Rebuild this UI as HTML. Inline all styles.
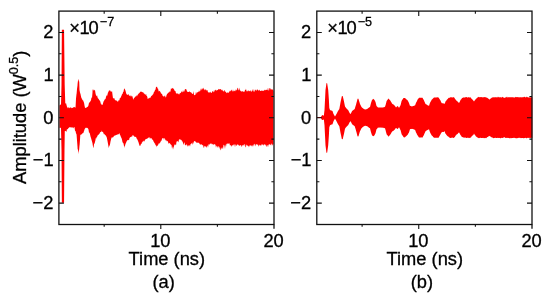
<!DOCTYPE html>
<html><head><meta charset="utf-8"><title>Amplitude vs Time</title>
<style>
html,body{margin:0;padding:0;background:#fff;}
body{width:550px;height:299px;overflow:hidden;}
svg{display:block;}
text{font-family:"Liberation Sans",sans-serif;font-size:18.3px;fill:#000;stroke:#000;stroke-width:0.3px;}
</style></head><body>
<svg width="550" height="299" viewBox="0 0 550 299">
<rect width="550" height="299" fill="#fff"/>
<polygon points="59.50,105.22 60.00,105.25 60.50,104.61 61.00,104.45 61.50,85.00 61.85,29.80 62.00,29.80 62.50,29.80 63.00,29.80 63.50,29.80 64.00,29.80 64.05,29.80 64.50,68.02 64.70,85.00 64.80,88.17 65.00,94.50 65.30,104.00 65.50,103.60 66.00,103.05 66.50,104.98 67.00,106.72 67.50,107.57 68.00,108.41 68.50,106.64 69.00,108.35 69.50,108.00 70.00,107.13 70.50,107.85 71.00,107.15 71.50,108.34 72.00,107.90 72.50,108.04 73.00,107.58 73.50,107.29 74.00,107.14 74.50,107.15 75.00,106.74 75.50,108.13 76.00,98.44 76.50,93.96 76.60,93.83 77.00,89.02 77.50,85.48 77.60,83.64 78.00,80.59 78.50,78.67 78.60,79.98 79.00,81.71 79.20,81.27 79.50,89.95 79.60,90.61 80.00,92.59 80.30,93.45 80.50,94.01 81.00,96.41 81.50,98.13 82.00,98.71 82.50,100.32 83.00,100.19 83.50,101.32 83.60,101.94 84.00,102.43 84.50,105.39 85.00,107.81 85.50,107.92 86.00,107.68 86.50,107.64 87.00,106.64 87.50,107.07 88.00,106.44 88.50,105.15 89.00,102.80 89.50,102.44 90.00,102.09 90.50,101.06 91.00,100.20 91.50,97.26 92.00,97.95 92.50,92.41 92.60,88.99 93.00,90.23 93.40,90.77 93.50,89.98 94.00,89.37 94.30,90.69 94.50,90.08 95.00,90.24 95.10,90.64 95.50,93.17 95.60,93.72 96.00,95.21 96.10,96.37 96.50,95.99 97.00,95.06 97.50,97.31 98.00,98.61 98.50,99.13 98.60,98.08 99.00,99.70 99.50,100.33 100.00,101.11 100.50,101.92 100.60,103.45 101.00,103.62 101.50,104.58 101.70,104.92 102.00,104.68 102.50,105.11 103.00,103.59 103.50,101.60 104.00,100.93 104.50,99.64 105.00,99.28 105.50,98.97 106.00,96.92 106.50,95.26 106.70,95.31 107.00,96.16 107.50,94.44 108.00,92.38 108.50,92.04 108.70,90.62 109.00,91.15 109.50,90.14 110.00,90.15 110.50,90.89 111.00,91.91 111.50,91.63 112.00,90.64 112.50,94.87 113.00,98.27 113.50,98.38 114.00,97.84 114.50,98.84 115.00,100.18 115.50,100.47 116.00,99.64 116.50,100.72 117.00,101.24 117.50,101.17 118.00,101.99 118.50,100.03 119.00,100.67 119.50,99.70 120.00,97.44 120.50,98.19 121.00,96.75 121.50,95.85 122.00,94.25 122.50,93.88 123.00,92.31 123.50,91.68 124.00,89.08 124.50,89.28 124.60,88.64 124.70,87.55 125.00,89.60 125.50,90.71 126.00,92.69 126.50,94.17 127.00,94.54 127.50,94.85 128.00,95.08 128.50,93.65 129.00,95.68 129.50,95.89 130.00,95.05 130.50,96.63 131.00,95.06 131.50,96.64 132.00,95.86 132.50,96.79 133.00,98.79 133.50,99.69 134.00,97.62 134.50,97.93 135.00,96.94 135.50,96.31 136.00,96.67 136.50,95.01 137.00,96.40 137.50,95.05 138.00,94.54 138.50,93.63 139.00,93.16 139.50,92.91 140.00,91.89 140.50,91.85 141.00,91.45 141.50,91.83 141.60,91.67 142.00,92.06 142.50,92.55 143.00,91.74 143.50,93.11 144.00,93.47 144.50,93.73 145.00,94.54 145.50,94.42 146.00,94.87 146.30,94.11 146.50,95.98 147.00,95.90 147.50,97.85 147.60,98.92 148.00,98.68 148.50,98.29 149.00,98.51 149.50,97.46 150.00,98.37 150.50,97.56 151.00,96.41 151.50,95.67 152.00,95.82 152.50,94.86 152.60,94.68 153.00,94.46 153.50,93.43 154.00,91.70 154.50,91.65 154.60,91.06 154.70,90.64 155.00,90.14 155.50,89.44 156.00,87.00 156.50,86.67 156.60,87.28 156.70,86.94 157.00,86.50 157.50,88.60 158.00,88.47 158.50,90.50 158.70,91.42 159.00,91.14 159.50,90.79 160.00,91.40 160.50,92.06 161.00,93.38 161.50,93.76 162.00,93.84 162.50,95.52 162.70,95.94 163.00,95.82 163.50,96.54 164.00,96.63 164.50,96.07 165.00,95.13 165.50,97.37 166.00,97.38 166.50,95.31 167.00,94.21 167.50,93.79 168.00,92.64 168.50,92.41 169.00,92.69 169.50,91.31 170.00,92.01 170.50,91.30 171.00,87.88 171.50,89.08 172.00,88.39 172.50,88.28 173.00,87.84 173.50,89.10 174.00,89.26 174.50,90.48 175.00,91.32 175.50,91.12 176.00,93.38 176.50,93.76 177.00,92.65 177.50,93.53 178.00,94.21 178.50,94.25 179.00,93.21 179.50,94.85 180.00,92.60 180.50,93.23 181.00,92.70 181.50,91.22 182.00,91.73 182.50,92.50 183.00,90.06 183.50,91.41 184.00,92.01 184.50,90.84 185.00,88.96 185.50,89.36 186.00,88.96 186.50,89.65 187.00,91.55 187.50,91.64 188.00,91.98 188.50,92.09 189.00,91.67 189.50,91.19 190.00,92.02 190.50,91.97 191.00,92.79 191.50,92.46 192.00,93.81 192.50,93.77 193.00,93.94 193.50,91.11 194.00,94.97 194.50,95.20 195.00,94.73 195.50,94.68 196.00,91.54 196.50,94.09 197.00,92.17 197.50,92.44 198.00,91.96 198.50,91.99 199.00,90.28 199.50,91.40 200.00,91.61 200.50,90.09 201.00,88.25 201.50,90.54 202.00,88.08 202.50,88.72 203.00,89.74 203.50,87.38 204.00,89.06 204.50,89.63 205.00,90.41 205.50,89.14 206.00,89.48 206.50,90.45 207.00,90.40 207.50,89.93 208.00,92.39 208.50,92.22 209.00,92.46 209.50,91.96 210.00,93.32 210.50,91.60 211.00,92.60 211.50,93.09 212.00,92.56 212.50,90.80 213.00,91.47 213.50,92.40 214.00,89.95 214.50,91.90 215.00,89.47 215.50,90.48 216.00,89.54 216.50,91.02 217.00,90.05 217.50,90.28 218.00,89.78 218.50,89.29 219.00,88.84 219.50,89.48 220.00,89.30 220.50,89.05 221.00,89.45 221.50,90.50 222.00,89.21 222.50,90.50 223.00,90.81 223.50,91.66 224.00,90.77 224.50,89.86 225.00,92.04 225.50,91.58 226.00,91.63 226.50,93.24 227.00,92.70 227.50,92.31 228.00,93.03 228.50,92.64 229.00,91.96 229.50,91.51 230.00,90.58 230.50,91.44 231.00,90.31 231.50,89.51 232.00,91.33 232.50,91.47 233.00,89.35 233.50,91.61 234.00,91.05 234.50,90.49 235.00,91.41 235.50,90.57 236.00,88.92 236.50,90.53 237.00,89.97 237.50,87.65 238.00,88.09 238.50,90.06 239.00,90.62 239.50,87.56 240.00,90.75 240.50,90.43 241.00,91.59 241.50,91.59 242.00,91.18 242.50,91.21 243.00,91.60 243.50,92.03 244.00,91.26 244.50,92.02 245.00,90.07 245.50,89.95 246.00,88.49 246.50,91.76 247.00,90.29 247.50,91.30 248.00,91.51 248.50,89.95 249.00,91.53 249.50,91.12 250.00,90.78 250.50,90.24 251.00,91.64 251.50,91.82 252.00,90.15 252.50,90.89 253.00,88.42 253.50,91.23 254.00,91.67 254.50,91.57 255.00,89.30 255.50,90.07 256.00,90.48 256.50,90.80 257.00,89.34 257.50,89.82 258.00,89.85 258.50,90.86 259.00,90.41 259.50,89.40 260.00,90.92 260.50,90.63 261.00,91.28 261.50,90.80 262.00,90.11 262.50,90.98 263.00,90.95 263.50,90.74 264.00,90.56 264.50,89.62 265.00,90.66 265.50,89.81 266.00,89.91 266.50,89.62 267.00,90.21 267.50,89.97 268.00,87.57 268.50,90.30 269.00,90.82 269.50,87.67 270.00,88.45 270.50,88.40 271.00,90.22 271.50,89.25 272.00,89.12 272.50,89.51 273.00,90.15 273.50,90.71 273.50,144.13 273.00,144.52 272.50,144.41 272.00,145.94 271.50,143.60 271.00,143.71 270.50,145.32 270.00,144.94 269.50,143.76 269.00,144.66 268.50,144.40 268.00,147.52 267.50,144.88 267.00,145.46 266.50,147.18 266.00,144.31 265.50,145.66 265.00,144.15 264.50,144.87 264.00,144.01 263.50,145.64 263.00,144.79 262.50,144.77 262.00,144.03 261.50,144.83 261.00,146.10 260.50,144.89 260.00,145.57 259.50,145.29 259.00,144.28 258.50,146.63 258.00,145.18 257.50,144.51 257.00,144.18 256.50,144.46 256.00,144.06 255.50,146.54 255.00,144.08 254.50,143.78 254.00,145.91 253.50,143.99 253.00,146.94 252.50,144.78 252.00,146.84 251.50,145.48 251.00,145.45 250.50,145.14 250.00,145.71 249.50,145.20 249.00,147.40 248.50,145.91 248.00,145.82 247.50,145.75 247.00,145.06 246.50,144.57 246.00,146.87 245.50,147.55 245.00,144.04 244.50,144.29 244.00,146.25 243.50,144.54 243.00,145.35 242.50,144.99 242.00,146.60 241.50,146.71 241.00,144.86 240.50,145.30 240.00,145.40 239.50,145.53 239.00,146.11 238.50,144.38 238.00,145.22 237.50,144.07 237.00,145.01 236.50,146.18 236.00,144.19 235.50,144.79 235.00,147.16 234.50,144.58 234.00,144.25 233.50,144.70 233.00,145.87 232.50,144.74 232.00,146.00 231.50,146.85 231.00,144.66 230.50,145.35 230.00,145.86 229.50,143.62 229.00,143.35 228.50,144.28 228.00,142.74 227.50,143.81 227.00,144.32 226.50,143.62 226.00,146.73 225.50,144.20 225.00,149.11 224.50,145.93 224.00,144.80 223.50,145.12 223.00,149.26 222.50,146.95 222.00,149.45 221.50,148.30 221.00,147.26 220.50,150.61 220.00,149.28 219.50,147.49 219.00,146.48 218.50,146.02 218.00,148.13 217.50,146.41 217.00,146.59 216.50,145.38 216.00,147.76 215.50,145.05 215.00,144.26 214.50,144.29 214.00,144.32 213.50,144.63 213.00,144.39 212.50,143.80 212.00,144.85 211.50,143.37 211.00,143.94 210.50,143.54 210.00,143.61 209.50,145.03 209.00,144.07 208.50,144.77 208.00,147.65 207.50,145.39 207.00,145.75 206.50,147.82 206.00,147.11 205.50,146.31 205.00,146.30 204.50,145.69 204.00,147.91 203.50,147.19 203.00,144.75 202.50,145.54 202.00,144.72 201.50,144.22 201.00,144.58 200.50,144.46 200.00,144.38 199.50,143.79 199.00,142.78 198.50,142.65 198.00,142.70 197.50,142.87 197.00,142.53 196.50,142.81 196.00,142.26 195.50,141.75 195.00,140.80 194.50,141.19 194.00,141.16 193.50,144.09 193.00,141.59 192.50,145.11 192.00,143.02 191.50,143.28 191.00,144.31 190.50,143.91 190.00,146.63 189.50,144.98 189.00,145.59 188.50,145.37 188.00,146.77 187.50,145.90 187.00,144.38 186.50,144.27 186.00,145.72 185.50,144.76 185.00,145.30 184.50,142.30 184.00,143.10 183.50,145.06 183.00,142.97 182.50,141.21 182.00,141.48 181.50,139.75 181.00,140.33 180.50,139.47 180.00,139.31 179.50,139.39 179.00,139.26 178.50,142.42 178.00,141.32 177.50,141.13 177.00,141.28 176.50,141.76 176.00,145.48 175.50,144.29 175.00,144.88 174.50,144.22 174.00,146.18 173.50,147.44 173.00,149.81 172.50,146.11 172.00,148.87 171.50,144.92 171.00,144.73 170.50,144.37 170.00,143.40 169.50,142.91 169.00,143.37 168.50,143.81 168.00,141.69 167.50,140.84 167.00,141.54 166.50,140.67 166.00,139.72 165.50,140.84 165.00,138.54 164.50,138.08 164.00,140.00 163.50,138.15 163.00,137.87 162.70,138.23 162.50,138.17 162.00,138.76 161.50,141.02 161.00,140.45 160.50,142.27 160.00,142.60 159.50,143.55 159.00,143.48 158.70,143.28 158.50,144.46 158.00,144.51 157.50,146.14 157.00,145.60 156.70,146.99 156.60,147.61 156.50,146.58 156.00,145.35 155.50,145.27 155.00,143.14 154.70,143.06 154.60,144.21 154.50,143.57 154.00,142.08 153.50,141.39 153.00,140.08 152.60,139.92 152.50,139.31 152.00,139.57 151.50,138.30 151.00,137.72 150.50,138.09 150.00,139.22 149.50,136.66 149.00,138.34 148.50,137.37 148.00,138.01 147.60,138.11 147.50,138.52 147.00,138.92 146.50,138.84 146.30,139.04 146.00,138.71 145.50,139.27 145.00,140.28 144.50,140.72 144.00,141.92 143.50,140.84 143.00,140.85 142.50,142.29 142.00,142.22 141.60,143.50 141.50,143.91 141.00,144.06 140.50,145.17 140.00,146.15 139.50,145.49 139.00,144.06 138.50,142.14 138.00,140.89 137.50,139.66 137.00,139.02 136.50,138.22 136.00,136.78 135.50,136.95 135.00,136.77 134.50,136.76 134.00,136.15 133.50,135.76 133.00,134.72 132.50,135.52 132.00,136.93 131.50,136.31 131.00,136.98 130.50,137.04 130.00,137.47 129.50,138.03 129.00,140.45 128.50,139.66 128.00,139.91 127.50,139.99 127.00,140.97 126.50,141.58 126.00,142.89 125.50,143.66 125.00,145.82 124.70,145.97 124.60,146.77 124.50,148.04 124.00,146.01 123.50,143.41 123.00,142.73 122.50,142.18 122.00,139.64 121.50,138.09 121.00,137.22 120.50,135.63 120.00,134.67 119.50,132.80 119.00,134.80 118.50,133.85 118.00,134.38 117.50,134.24 117.00,134.91 116.50,134.81 116.00,134.96 115.50,135.53 115.00,135.27 114.50,135.69 114.00,135.95 113.50,136.80 113.00,137.40 112.50,137.59 112.00,137.16 111.50,137.76 111.00,139.58 110.50,141.56 110.00,144.51 109.50,145.76 109.00,146.80 108.70,148.20 108.50,146.49 108.00,143.74 107.50,140.99 107.00,138.48 106.70,137.29 106.50,136.64 106.00,135.88 105.50,135.11 105.00,135.26 104.50,133.86 104.00,134.39 103.50,133.32 103.00,132.11 102.50,131.64 102.00,131.71 101.70,130.21 101.50,131.60 101.00,131.98 100.60,132.11 100.50,132.06 100.00,132.56 99.50,133.87 99.00,134.08 98.60,135.11 98.50,134.46 98.00,135.18 97.50,135.62 97.00,137.25 96.50,137.31 96.10,139.10 96.00,138.01 95.60,138.72 95.50,139.93 95.10,141.43 95.00,141.70 94.50,144.35 94.30,143.11 94.00,144.40 93.50,147.98 93.40,148.01 93.00,146.40 92.60,143.99 92.50,143.23 92.00,141.39 91.50,139.74 91.00,138.02 90.50,136.39 90.00,134.26 89.50,132.52 89.00,132.86 88.50,129.40 88.00,128.38 87.50,127.89 87.00,127.84 86.50,128.06 86.00,127.55 85.50,128.05 85.00,128.57 84.50,129.43 84.00,131.32 83.60,132.12 83.50,132.82 83.00,133.22 82.50,133.19 82.00,133.67 81.50,134.24 81.00,134.99 80.50,134.46 80.30,134.92 80.00,139.87 79.60,145.13 79.50,145.49 79.20,149.20 79.00,150.27 78.60,154.18 78.50,152.62 78.00,150.03 77.60,148.70 77.50,146.74 77.00,140.31 76.60,134.94 76.50,134.32 76.00,133.18 75.50,131.09 75.00,130.82 74.50,127.37 74.00,127.03 73.50,128.61 73.00,127.23 72.50,127.85 72.00,127.23 71.50,127.82 71.00,126.94 70.50,127.43 70.00,127.30 69.50,126.94 69.00,127.95 68.50,127.84 68.00,129.06 67.50,129.56 67.00,128.77 66.50,131.65 66.00,131.41 65.50,130.77 65.30,131.00 65.00,131.00 64.80,131.00 64.70,137.33 64.50,150.00 64.05,202.80 64.00,202.80 63.50,202.80 63.00,202.80 62.50,202.80 62.00,202.80 61.85,202.80 61.50,150.00 61.00,127.93 60.50,127.74 60.00,127.83 59.50,128.01" fill="#ff0000"/>
<polygon points="317.00,117.10 317.50,117.10 318.00,117.10 318.50,117.10 319.00,117.10 319.50,117.10 320.00,117.10 320.50,117.10 321.00,117.10 321.50,116.00 322.00,115.55 322.50,115.10 323.00,115.30 323.50,115.50 323.80,116.10 324.00,114.36 324.50,110.00 325.00,100.00 325.50,90.00 326.00,86.39 326.40,83.50 326.50,83.37 326.80,83.00 327.00,83.25 327.20,83.50 327.50,85.45 328.00,88.70 328.20,90.00 328.50,94.29 328.90,100.00 329.00,102.00 329.30,108.00 329.50,108.57 330.00,110.00 330.50,110.20 331.00,110.40 331.50,110.60 332.00,110.80 332.50,111.00 333.00,112.50 333.50,114.00 334.00,114.87 334.50,115.73 335.00,116.60 335.50,115.73 336.00,114.87 336.50,114.00 337.00,113.00 337.50,112.00 338.00,111.00 338.50,110.23 339.00,109.46 339.30,109.00 339.50,107.92 340.00,105.23 340.50,102.54 340.60,102.00 341.00,100.10 341.50,97.73 341.80,96.30 342.00,96.14 342.30,95.90 342.50,96.06 342.80,96.30 343.00,97.18 343.50,99.37 344.00,101.56 344.10,102.00 344.50,104.00 345.00,106.50 345.50,107.18 346.00,107.86 346.10,108.00 346.50,108.40 347.00,108.90 347.50,109.40 348.00,109.90 348.10,110.00 348.50,110.80 349.00,111.80 349.50,112.80 349.60,113.00 350.00,113.40 350.50,113.90 350.60,114.00 351.00,113.20 351.50,112.20 352.00,111.20 352.10,111.00 352.50,110.69 353.00,110.31 353.50,109.92 354.00,109.54 354.50,109.15 354.70,109.00 355.00,108.00 355.50,106.33 356.00,104.67 356.20,104.00 356.50,102.85 357.00,100.92 357.50,99.00 358.00,98.60 358.50,99.00 359.00,100.67 359.50,102.33 360.00,104.00 360.50,105.00 361.00,106.00 361.50,107.00 362.00,107.44 362.50,107.88 363.00,108.32 363.20,108.50 363.50,108.65 364.00,108.90 364.50,109.15 365.00,109.40 365.20,109.50 365.50,109.42 366.00,109.30 366.50,109.17 367.00,109.05 367.20,109.00 367.50,108.75 368.00,108.33 368.50,107.92 369.00,107.50 369.50,107.25 370.00,107.00 370.50,105.00 371.00,103.00 371.50,101.50 372.00,99.92 372.50,99.62 373.00,99.17 373.50,98.81 374.00,99.50 374.50,100.04 375.00,100.93 375.50,101.91 376.00,103.99 376.50,106.02 377.00,106.59 377.50,107.07 378.00,107.57 378.50,107.62 379.00,107.59 379.50,107.52 380.00,107.56 380.50,107.54 381.00,107.47 381.50,107.55 382.00,107.58 382.50,107.53 383.00,107.43 383.50,107.28 384.00,107.23 384.50,107.02 385.00,106.85 385.50,105.34 385.60,104.93 386.00,103.44 386.50,101.44 386.60,101.02 387.00,100.43 387.50,99.75 388.00,99.24 388.50,98.61 388.60,98.46 389.00,99.02 389.50,99.66 390.00,100.28 390.50,100.82 390.60,100.88 391.00,101.76 391.50,102.47 392.00,103.56 392.50,103.88 393.00,104.20 393.50,104.61 394.00,105.04 394.50,105.46 394.60,105.47 395.00,106.07 395.50,106.81 396.00,107.49 396.50,107.05 397.00,106.62 397.50,106.08 397.60,106.02 398.00,106.44 398.50,107.10 399.00,107.97 399.50,106.91 400.00,106.17 400.50,105.19 400.60,105.00 401.00,103.44 401.50,101.29 401.60,101.01 402.00,100.37 402.50,99.61 403.00,98.80 403.50,98.10 403.60,97.88 404.00,97.98 404.50,98.02 405.00,98.03 405.50,98.41 406.00,98.90 406.50,99.38 407.00,99.81 407.50,100.34 407.70,100.50 408.00,101.02 408.50,102.01 409.00,102.93 409.50,104.49 410.00,106.04 410.50,105.86 411.00,106.16 411.50,106.32 412.00,106.42 412.50,106.27 413.00,106.04 413.50,105.89 414.00,105.82 414.50,105.48 415.00,105.51 415.50,104.15 416.00,102.81 416.50,101.97 417.00,100.91 417.50,99.74 418.00,99.03 418.50,98.47 419.00,97.83 419.50,97.72 420.00,97.82 420.50,97.80 421.00,97.72 421.50,97.80 422.00,97.71 422.50,97.81 423.00,98.66 423.50,99.57 424.00,100.46 424.50,101.67 425.00,102.84 425.50,104.00 426.00,104.28 426.50,104.56 427.00,104.73 427.50,105.19 428.00,105.44 428.50,105.62 429.00,106.00 429.50,104.35 430.00,102.85 430.50,101.95 431.00,101.04 431.50,100.23 431.60,99.77 432.00,99.59 432.50,99.07 433.00,98.58 433.50,98.04 434.00,97.38 434.50,97.44 435.00,97.40 435.50,97.44 436.00,97.51 436.50,97.50 437.00,97.37 437.50,97.33 438.00,97.47 438.50,97.55 438.60,97.52 439.00,98.21 439.50,99.03 440.00,99.83 440.50,100.51 441.00,101.65 441.50,102.67 441.60,102.93 442.00,103.17 442.50,103.17 443.00,103.21 443.50,103.50 444.00,103.54 444.50,103.77 444.60,104.09 445.00,103.07 445.50,101.58 445.60,101.42 446.00,100.64 446.50,100.45 447.00,99.56 447.50,99.16 447.60,99.01 448.00,98.66 448.50,97.77 449.00,97.97 449.50,97.83 450.00,97.53 450.50,97.30 451.00,97.18 451.50,97.37 452.00,97.41 452.50,97.46 453.00,97.29 453.50,97.36 454.00,97.30 454.50,97.96 455.00,98.77 455.50,99.44 456.00,99.98 456.50,100.64 457.00,101.12 457.50,101.55 458.00,101.99 458.50,102.42 459.00,102.94 459.50,102.17 460.00,101.25 460.50,100.06 460.70,99.78 461.00,99.59 461.50,98.90 462.00,98.07 462.50,97.88 463.00,97.41 463.50,97.49 464.00,97.53 464.50,97.51 465.00,97.60 465.50,97.17 466.00,97.05 466.50,97.09 467.00,97.56 467.50,97.55 468.00,97.56 468.50,97.08 469.00,97.43 469.50,97.54 470.00,97.22 470.50,97.27 471.00,98.33 471.50,98.74 472.00,98.72 472.50,99.72 473.00,100.22 473.50,100.72 474.00,101.55 474.50,100.76 475.00,99.98 475.50,99.45 476.00,98.87 476.50,98.54 477.00,97.95 477.50,97.46 478.00,97.32 478.50,96.79 479.00,97.37 479.50,97.33 480.00,96.96 480.50,97.31 481.00,96.95 481.50,97.18 482.00,96.99 482.50,97.41 483.00,97.25 483.50,97.13 484.00,97.22 484.50,96.92 485.00,97.23 485.50,97.24 486.00,97.13 486.50,97.48 487.00,97.98 487.50,97.84 488.00,98.50 488.50,98.76 489.00,98.92 489.50,99.39 489.60,99.64 490.00,99.22 490.50,98.42 491.00,98.42 491.50,97.64 492.00,97.68 492.50,97.30 493.00,97.38 493.50,97.25 494.00,97.20 494.50,97.15 495.00,97.40 495.50,97.16 496.00,97.12 496.50,97.41 497.00,97.22 497.50,97.39 498.00,96.56 498.50,97.22 499.00,97.24 499.50,97.39 500.00,96.97 500.50,97.13 501.00,97.45 501.50,97.39 502.00,97.37 502.50,96.88 503.00,96.75 503.50,97.66 504.00,97.80 504.50,97.80 505.00,98.03 505.50,97.27 506.00,97.31 506.50,97.28 507.00,96.54 507.50,97.44 508.00,97.44 508.50,96.92 509.00,97.40 509.50,97.34 510.00,96.92 510.50,97.29 511.00,97.43 511.50,97.34 512.00,97.03 512.50,97.24 513.00,97.44 513.50,97.27 514.00,97.44 514.50,97.43 515.00,97.41 515.50,96.78 516.00,97.32 516.50,97.03 517.00,97.24 517.50,96.88 518.00,97.22 518.50,97.19 519.00,97.30 519.50,97.33 520.00,97.43 520.50,97.36 521.00,97.08 521.50,97.42 522.00,97.32 522.50,97.31 523.00,97.28 523.50,97.18 524.00,96.82 524.50,96.85 525.00,97.35 525.50,97.21 526.00,97.44 526.50,96.84 527.00,96.77 527.50,97.25 528.00,97.37 528.50,97.41 529.00,97.40 529.50,97.35 530.00,97.44 530.50,97.27 531.00,97.32 531.50,97.27 532.00,97.30 532.30,97.23 532.30,138.22 532.00,137.82 531.50,137.86 531.00,138.04 530.50,138.07 530.00,137.76 529.50,138.01 529.00,137.76 528.50,138.00 528.00,137.81 527.50,137.89 527.00,137.76 526.50,138.44 526.00,137.95 525.50,137.78 525.00,137.93 524.50,137.97 524.00,138.30 523.50,138.34 523.00,138.05 522.50,137.98 522.00,137.95 521.50,138.06 521.00,138.23 520.50,138.12 520.00,137.85 519.50,137.87 519.00,138.06 518.50,137.83 518.00,138.10 517.50,138.14 517.00,138.00 516.50,138.22 516.00,138.44 515.50,137.90 515.00,137.94 514.50,137.79 514.00,137.92 513.50,137.77 513.00,137.90 512.50,137.91 512.00,138.02 511.50,137.98 511.00,138.46 510.50,137.81 510.00,138.44 509.50,138.21 509.00,137.83 508.50,138.12 508.00,138.03 507.50,137.83 507.00,137.95 506.50,137.81 506.00,138.01 505.50,138.03 505.00,137.54 504.50,137.37 504.00,137.32 503.50,137.51 503.00,137.94 502.50,137.96 502.00,137.80 501.50,137.93 501.00,137.83 500.50,138.45 500.00,137.92 499.50,138.06 499.00,137.85 498.50,138.01 498.00,137.94 497.50,137.76 497.00,137.91 496.50,137.92 496.00,138.01 495.50,137.76 495.00,137.82 494.50,137.96 494.00,138.04 493.50,138.17 493.00,137.93 492.50,137.56 492.00,137.49 491.50,137.31 491.00,136.97 490.50,136.61 490.00,136.21 489.60,136.05 489.50,135.66 489.00,136.21 488.50,136.33 488.00,137.03 487.50,137.03 487.00,137.25 486.50,138.06 486.00,138.19 485.50,137.85 485.00,138.30 484.50,137.88 484.00,138.30 483.50,137.91 483.00,137.71 482.50,137.94 482.00,138.08 481.50,138.01 481.00,137.96 480.50,137.83 480.00,137.75 479.50,138.02 479.00,138.20 478.50,137.96 478.00,137.75 477.50,137.43 477.00,137.20 476.50,136.68 476.00,136.38 475.50,135.85 475.00,134.97 474.50,134.47 474.00,133.56 473.50,134.69 473.00,135.25 472.50,135.54 472.00,136.09 471.50,136.49 471.00,137.62 470.50,137.42 470.00,137.99 469.50,137.77 469.00,138.21 468.50,137.79 468.00,137.81 467.50,137.83 467.00,137.64 466.50,137.91 466.00,138.12 465.50,137.59 465.00,137.61 464.50,137.72 464.00,137.62 463.50,137.42 463.00,137.59 462.50,137.05 462.00,137.01 461.50,136.52 461.00,135.50 460.70,135.18 460.50,135.24 460.00,134.10 459.50,133.23 459.00,132.14 458.50,133.02 458.00,133.29 457.50,134.21 457.00,134.12 456.50,134.69 456.00,135.34 455.50,135.86 455.00,136.68 454.50,137.21 454.00,137.77 453.50,137.99 453.00,137.74 452.50,137.56 452.00,137.63 451.50,137.80 451.00,137.67 450.50,137.94 450.00,137.93 449.50,137.47 449.00,137.36 448.50,136.65 448.00,136.31 447.60,136.32 447.50,136.15 447.00,135.48 446.50,134.99 446.00,134.13 445.60,133.80 445.50,133.81 445.00,132.46 444.60,131.10 444.50,131.11 444.00,131.99 443.50,132.05 443.00,131.66 442.50,132.07 442.00,131.95 441.60,132.27 441.50,132.73 441.00,133.25 440.50,134.14 440.00,135.20 439.50,136.04 439.00,136.94 438.60,137.64 438.50,137.71 438.00,137.67 437.50,137.73 437.00,137.68 436.50,137.81 436.00,137.86 435.50,137.86 435.00,137.77 434.50,137.86 434.00,137.76 433.50,137.18 433.00,136.80 432.50,136.12 432.00,135.63 431.60,135.16 431.50,134.97 431.00,134.19 430.50,133.19 430.00,132.22 429.50,130.74 429.00,129.24 428.50,129.50 428.00,129.84 427.50,130.09 427.00,130.29 426.50,130.60 426.00,130.92 425.50,131.22 425.00,132.40 424.50,133.49 424.00,134.66 423.50,135.74 423.00,136.58 422.50,137.65 422.00,137.37 421.50,137.50 421.00,137.49 420.50,137.39 420.00,137.55 419.50,137.39 419.00,137.53 418.50,136.75 418.00,136.10 417.50,135.35 417.00,134.39 416.50,133.24 416.00,132.38 415.50,131.02 415.00,129.82 414.50,129.63 414.00,129.43 413.50,129.15 413.00,129.02 412.50,128.90 412.00,128.69 411.50,128.94 411.00,128.93 410.50,129.04 410.00,129.26 409.50,130.80 409.00,132.39 408.50,133.19 408.00,134.12 407.70,134.71 407.50,135.01 407.00,135.36 406.50,135.91 406.00,136.32 405.50,136.82 405.00,137.32 404.50,137.38 404.00,137.18 403.60,137.23 403.50,137.06 403.00,136.35 402.50,135.62 402.00,134.84 401.60,134.27 401.50,133.87 401.00,131.76 400.60,130.19 400.50,130.11 400.00,129.14 399.50,128.10 399.00,127.21 398.50,128.04 398.00,128.60 397.60,129.21 397.50,129.06 397.00,128.68 396.50,128.17 396.00,127.86 395.50,128.45 395.00,129.13 394.60,129.74 394.50,129.87 394.00,130.21 393.50,130.65 393.00,131.06 392.50,131.34 392.00,131.81 391.50,132.57 391.00,133.56 390.60,134.31 390.50,134.35 390.00,134.98 389.50,135.53 389.00,136.17 388.60,136.71 388.50,136.60 388.00,136.09 387.50,135.37 387.00,134.75 386.60,134.27 386.50,133.82 386.00,132.03 385.60,130.33 385.50,129.94 385.00,128.15 384.50,128.04 384.00,128.27 383.50,127.84 383.00,127.81 382.50,127.68 382.00,127.56 381.50,127.69 381.00,127.62 380.50,127.56 380.00,127.67 379.50,127.57 379.00,127.62 378.50,127.73 378.00,127.55 377.50,128.19 377.00,128.69 376.50,129.17 376.00,131.21 375.50,133.31 375.00,134.32 374.50,135.16 374.00,135.69 373.50,136.29 373.00,135.90 372.50,135.70 372.00,135.31 371.50,133.70 371.00,132.20 370.50,130.20 370.00,128.20 369.50,127.95 369.00,127.70 368.50,127.28 368.00,126.87 367.50,126.45 367.20,126.20 367.00,126.15 366.50,126.02 366.00,125.90 365.50,125.77 365.20,125.70 365.00,125.80 364.50,126.05 364.00,126.30 363.50,126.55 363.20,126.70 363.00,126.88 362.50,127.32 362.00,127.76 361.50,128.20 361.00,129.20 360.50,130.20 360.00,131.20 359.50,132.87 359.00,134.53 358.50,136.20 358.00,136.60 357.50,136.20 357.00,134.28 356.50,132.35 356.20,131.20 356.00,130.53 355.50,128.87 355.00,127.20 354.70,126.20 354.50,126.05 354.00,125.66 353.50,125.28 353.00,124.89 352.50,124.51 352.10,124.20 352.00,124.00 351.50,123.00 351.00,122.00 350.60,121.20 350.50,121.30 350.00,121.80 349.60,122.20 349.50,122.40 349.00,123.40 348.50,124.40 348.10,125.20 348.00,125.30 347.50,125.80 347.00,126.30 346.50,126.80 346.10,127.20 346.00,127.34 345.50,128.02 345.00,128.70 344.50,131.20 344.10,133.20 344.00,133.64 343.50,135.83 343.00,138.02 342.80,138.90 342.50,139.14 342.30,139.30 342.00,139.06 341.80,138.90 341.50,137.47 341.00,135.10 340.60,133.20 340.50,132.66 340.00,129.97 339.50,127.28 339.30,126.20 339.00,125.74 338.50,124.97 338.00,124.20 337.50,123.20 337.00,122.20 336.50,121.20 336.00,120.33 335.50,119.47 335.00,118.60 334.50,119.47 334.00,120.33 333.50,121.20 333.00,122.70 332.50,124.20 332.00,124.40 331.50,124.60 331.00,124.80 330.50,125.00 330.00,125.20 329.50,126.63 329.30,127.20 329.00,133.20 328.90,135.20 328.50,140.91 328.20,145.20 328.00,146.64 327.50,150.24 327.20,152.40 327.00,152.65 326.80,152.90 326.50,152.53 326.40,152.40 326.00,149.20 325.50,145.20 325.00,135.20 324.50,125.20 324.00,120.84 323.80,119.10 323.50,119.70 323.00,119.90 322.50,120.10 322.00,119.65 321.50,119.20 321.00,118.10 320.50,118.10 320.00,118.10 319.50,118.10 319.00,118.10 318.50,118.10 318.00,118.10 317.50,118.10 317.00,118.10" fill="#ff0000"/>
<rect x="58.9" y="11.1" width="215.1" height="213.4" fill="none" stroke="#111" stroke-width="1.3"/>
<path d="M58.9 203.16h5M274.0 203.16h-5" stroke="#111" stroke-width="1.1"/>
<path d="M58.9 160.48h5M274.0 160.48h-5" stroke="#111" stroke-width="1.1"/>
<path d="M58.9 117.80h5M274.0 117.80h-5" stroke="#111" stroke-width="1.1"/>
<path d="M58.9 75.12h5M274.0 75.12h-5" stroke="#111" stroke-width="1.1"/>
<path d="M58.9 32.44h5M274.0 32.44h-5" stroke="#111" stroke-width="1.1"/>
<path d="M58.9 181.82h2.6M274.0 181.82h-2.6" stroke="#111" stroke-width="1.1"/>
<path d="M58.9 139.14h2.6M274.0 139.14h-2.6" stroke="#111" stroke-width="1.1"/>
<path d="M58.9 96.46h2.6M274.0 96.46h-2.6" stroke="#111" stroke-width="1.1"/>
<path d="M58.9 53.78h2.6M274.0 53.78h-2.6" stroke="#111" stroke-width="1.1"/>
<path d="M274.0 224.5v4.3" stroke="#111" stroke-width="1.3"/>
<path d="M104.18 224.5v2.2M104.18 11.1v2.6" stroke="#111" stroke-width="1.1"/>
<path d="M160.79 224.5v4.6M160.79 11.1v5" stroke="#111" stroke-width="1.1"/>
<path d="M217.39 224.5v2.2M217.39 11.1v2.6" stroke="#111" stroke-width="1.1"/>
<rect x="316.8" y="11.1" width="215.2" height="213.4" fill="none" stroke="#111" stroke-width="1.3"/>
<path d="M316.8 203.16h5M532.0 203.16h-5" stroke="#111" stroke-width="1.1"/>
<path d="M316.8 160.48h5M532.0 160.48h-5" stroke="#111" stroke-width="1.1"/>
<path d="M316.8 117.80h5M532.0 117.80h-5" stroke="#111" stroke-width="1.1"/>
<path d="M316.8 75.12h5M532.0 75.12h-5" stroke="#111" stroke-width="1.1"/>
<path d="M316.8 32.44h5M532.0 32.44h-5" stroke="#111" stroke-width="1.1"/>
<path d="M316.8 181.82h2.6M532.0 181.82h-2.6" stroke="#111" stroke-width="1.1"/>
<path d="M316.8 139.14h2.6M532.0 139.14h-2.6" stroke="#111" stroke-width="1.1"/>
<path d="M316.8 96.46h2.6M532.0 96.46h-2.6" stroke="#111" stroke-width="1.1"/>
<path d="M316.8 53.78h2.6M532.0 53.78h-2.6" stroke="#111" stroke-width="1.1"/>
<path d="M532.0 224.5v4.3" stroke="#111" stroke-width="1.3"/>
<path d="M362.11 224.5v2.2M362.11 11.1v2.6" stroke="#111" stroke-width="1.1"/>
<path d="M418.74 224.5v4.6M418.74 11.1v5" stroke="#111" stroke-width="1.1"/>
<path d="M475.37 224.5v2.2M475.37 11.1v2.6" stroke="#111" stroke-width="1.1"/>
<text x="53.30" y="209.06" text-anchor="end">−2</text>
<text x="53.60" y="166.38" text-anchor="end">−1</text>
<text x="53.30" y="123.70" text-anchor="end">0</text>
<text x="53.60" y="81.02" text-anchor="end">1</text>
<text x="53.30" y="38.34" text-anchor="end">2</text>
<text x="311.20" y="209.06" text-anchor="end">−2</text>
<text x="311.50" y="166.38" text-anchor="end">−1</text>
<text x="311.20" y="123.70" text-anchor="end">0</text>
<text x="311.50" y="81.02" text-anchor="end">1</text>
<text x="311.20" y="38.34" text-anchor="end">2</text>
<text x="160.39" y="246.5" text-anchor="middle">10</text>
<text x="273.60" y="246.5" text-anchor="middle">20</text>
<text x="166.85" y="265.2" text-anchor="middle" font-size="18.3">Time (ns)</text>
<text x="163.65" y="288.2" text-anchor="middle" font-size="18.7">(a)</text>
<text x="418.34" y="246.5" text-anchor="middle">10</text>
<text x="531.60" y="246.5" text-anchor="middle">20</text>
<text x="424.80" y="265.2" text-anchor="middle" font-size="18.3">Time (ns)</text>
<text x="421.80" y="288.2" text-anchor="middle" font-size="18.7">(b)</text>
<text y="33.5"><tspan x="69.3">×</tspan><tspan x="79.6">1</tspan><tspan x="88.6">0</tspan><tspan x="99.8" dy="-7.4" font-size="12.6">−7</tspan></text>
<text y="33.5"><tspan x="327.2">×</tspan><tspan x="337.5">1</tspan><tspan x="346.5">0</tspan><tspan x="357.7" dy="-7.4" font-size="12.6">−5</tspan></text>
<text transform="translate(25.6 117.3) rotate(-90)" text-anchor="middle" font-size="18.8">Amplitude (W<tspan dy="-8" font-size="12.6">0.5</tspan><tspan dy="8">)</tspan></text>
</svg>
</body></html>
